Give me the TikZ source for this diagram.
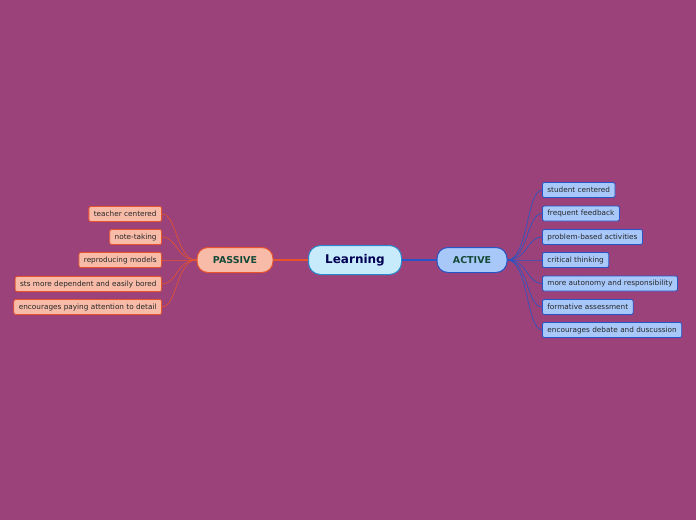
\documentclass[tikz,border=0pt]{standalone}
\usepackage{fontspec}
\setmainfont{DejaVu Sans}
\definecolor{bg}{HTML}{9A4279}
\definecolor{pfill}{HTML}{F7BBA8}
\definecolor{pline}{HTML}{E8532C}
\definecolor{afill}{HTML}{A8C8FA}
\definecolor{aline}{HTML}{2555C8}
\definecolor{lfill}{HTML}{C8EBFC}
\definecolor{lline}{HTML}{2A8AD0}
\definecolor{mtext}{HTML}{154A38}
\tikzset{x=1pt,y=-1pt,
 pleaf/.style={draw=pline,fill=pfill,rounded corners=2pt,line width=0.8pt,minimum height=15pt,inner xsep=5pt,inner ysep=0pt,font=\fontsize{7.3}{8}\selectfont,text=black!85,anchor=east},
 aleaf/.style={draw=aline,fill=afill,rounded corners=2pt,line width=0.8pt,minimum height=15pt,inner xsep=5pt,inner ysep=0pt,font=\fontsize{7.3}{8}\selectfont,text=black!85,anchor=west},
 main/.style={rounded corners=11pt,line width=1pt,minimum height=25pt,font=\bfseries\fontsize{9.5}{11}\selectfont,text=mtext},
 pcon/.style={draw=pline,line width=0.6pt},
 acon/.style={draw=aline,line width=0.6pt}}
\begin{document}
\begin{tikzpicture}
\fill[bg] (0,0) rectangle (696,520);
\useasboundingbox (0,0) rectangle (696,520);
\node[main,draw=lline,fill=lfill,minimum width=93pt,minimum height=29pt,rounded corners=12pt,font=\bfseries\fontsize{12}{14}\selectfont,text=black!20!blue!40!black] (L) at (355,260) {Learning};
\node[main,draw=pline,fill=pfill,minimum width=76pt] (P) at (235,260) {PASSIVE};
\node[main,draw=aline,fill=afill,minimum width=70pt] (A) at (472,260) {ACTIVE};
\draw[pline,line width=2pt] (L.west) -- (P.east);
\draw[aline,line width=2pt] (L.east) -- (A.west);
\node[pleaf] (p1) at (162,214) {teacher centered};
\node[pleaf] (p2) at (162,237) {note-taking};
\node[pleaf] (p3) at (162,260) {reproducing models};
\node[pleaf] (p4) at (162,284) {sts more dependent and easily bored};
\node[pleaf] (p5) at (162,307) {encourages paying attention to detail};
\foreach \n in {p1,p2,p3,p4,p5}
  \draw[pcon] (P.west) .. controls +(-20,0) and +(15,0) .. (\n.east);
\node[aleaf] (a1) at (542,190) {student centered};
\node[aleaf] (a2) at (542,213.5) {frequent feedback};
\node[aleaf] (a3) at (542,237) {problem-based activities};
\node[aleaf] (a4) at (542,260) {critical thinking};
\node[aleaf] (a5) at (542,283.5) {more autonomy and responsibility};
\node[aleaf] (a6) at (542,307) {formative assessment};
\node[aleaf] (a7) at (542,330) {encourages debate and duscussion};
\foreach \n in {a1,a2,a3,a4,a5,a6,a7}
  \draw[acon] (A.east) .. controls +(20,0) and +(-15,0) .. (\n.west);
\end{tikzpicture}
\end{document}
